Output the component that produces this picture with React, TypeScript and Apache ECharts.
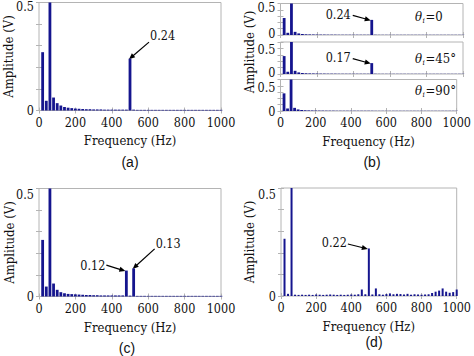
import React, { useEffect, useRef } from 'react';
import * as echarts from 'echarts';

// Frequency bins (Hz)
const FREQ = [20, 40, 60, 80, 100, 120, 140, 160, 180, 200, 220, 240, 260, 280, 300, 320, 340, 360, 380, 400, 420, 440, 460, 480, 500, 520, 540, 560, 580, 600, 620, 640, 660, 680, 700, 720, 740, 760, 780, 800, 820, 840, 860, 880, 900, 920, 940, 960, 980, 1000];

// (a)
const AMP_A = [0.27, 0.045, 0.5, 0.06, 0.034, 0.023, 0.016, 0.013, 0.011, 0.009, 0.008, 0.007, 0.006, 0.006, 0.005, 0.005, 0.005, 0.004, 0.004, 0.004, 0.004, 0.004, 0.004, 0.004, 0.24, 0.004, 0.003, 0.003, 0.003, 0.003, 0.003, 0.003, 0.003, 0.003, 0.003, 0.003, 0.003, 0.003, 0.003, 0.003, 0.003, 0.003, 0.003, 0.003, 0.003, 0.003, 0.003, 0.003, 0.003, 0.003];
// (b) theta = 0, 45, 90
const AMP_B1 = [0.27, 0.035, 0.5, 0.05, 0.025, 0.016, 0.011, 0.009, 0.008, 0.007, 0.006, 0.006, 0.005, 0.005, 0.005, 0.004, 0.004, 0.004, 0.004, 0.004, 0.004, 0.004, 0.004, 0.004, 0.24, 0.004, 0.003, 0.003, 0.003, 0.003, 0.003, 0.003, 0.003, 0.003, 0.003, 0.003, 0.003, 0.003, 0.003, 0.003, 0.003, 0.003, 0.003, 0.003, 0.003, 0.003, 0.003, 0.003, 0.003, 0.003];
const AMP_B2 = [0.28, 0.035, 0.5, 0.05, 0.025, 0.016, 0.011, 0.009, 0.008, 0.007, 0.006, 0.006, 0.005, 0.005, 0.005, 0.004, 0.004, 0.004, 0.004, 0.004, 0.004, 0.004, 0.004, 0.004, 0.17, 0.004, 0.003, 0.003, 0.003, 0.003, 0.003, 0.003, 0.003, 0.003, 0.003, 0.003, 0.003, 0.003, 0.003, 0.003, 0.003, 0.003, 0.003, 0.003, 0.003, 0.003, 0.003, 0.003, 0.003, 0.003];
const AMP_B3 = [0.28, 0.04, 0.5, 0.05, 0.025, 0.016, 0.011, 0.009, 0.008, 0.007, 0.006, 0.006, 0.005, 0.005, 0.005, 0.004, 0.004, 0.004, 0.004, 0.004, 0.004, 0.004, 0.004, 0.004, 0.004, 0.004, 0.003, 0.003, 0.003, 0.003, 0.003, 0.003, 0.003, 0.003, 0.003, 0.003, 0.003, 0.003, 0.003, 0.003, 0.003, 0.003, 0.003, 0.003, 0.003, 0.003, 0.003, 0.003, 0.003, 0.003];
// (c)
const AMP_C = [0.262, 0.046, 0.5, 0.06, 0.031, 0.02, 0.015, 0.012, 0.011, 0.01, 0.009, 0.008, 0.007, 0.007, 0.006, 0.006, 0.005, 0.005, 0.005, 0.005, 0.005, 0.005, 0.005, 0.12, 0.004, 0.13, 0.003, 0.003, 0.003, 0.003, 0.003, 0.003, 0.003, 0.003, 0.003, 0.003, 0.003, 0.003, 0.003, 0.003, 0.003, 0.003, 0.003, 0.003, 0.003, 0.003, 0.003, 0.003, 0.003, 0.003];
// (d)
const AMP_D = [0.265, 0.01, 0.5, 0.006, 0.005, 0.006, 0.005, 0.006, 0.005, 0.007, 0.006, 0.005, 0.006, 0.007, 0.006, 0.005, 0.006, 0.005, 0.006, 0.007, 0.006, 0.008, 0.03, 0.008, 0.22, 0.007, 0.035, 0.008, 0.006, 0.009, 0.012, 0.008, 0.01, 0.009, 0.007, 0.01, 0.006, 0.008, 0.007, 0.006, 0.007, 0.008, 0.014, 0.02, 0.025, 0.035, 0.02, 0.015, 0.018, 0.03];

const X_TICKS = [0, 200, 400, 600, 800, 1000];
const Y_MIN_LABEL = '0';
const Y_MAX_LABEL = '0.5';
const PANEL_LABELS = ['(a)', '(b)', '(c)', '(d)'];
const THETA_VALUES = ['0', '45°', '90°'];
const X_NAME = 'Frequency (Hz)';
const Y_NAME = 'Amplitude (V)';

const ANNOTATIONS = [
  { g: 0, f: 500, amps: AMP_A, label: '0.24' },
  { g: 1, f: 500, amps: AMP_B1, label: '0.24' },
  { g: 2, f: 500, amps: AMP_B2, label: '0.17' },
  { g: 4, f: 480, amps: AMP_C, label: '0.12' },
  { g: 4, f: 520, amps: AMP_C, label: '0.13' },
  { g: 5, f: 500, amps: AMP_D, label: '0.22' },
];

const SERIES_AMPS = [AMP_A, AMP_B1, AMP_B2, AMP_B3, AMP_C, AMP_D];

// ---- styling ----
const F_COND = 'DejaVu Serif Condensed';
const SANS = 'Liberation Sans';
const BAR = '#15158e';
const BOX = '#b4b4b4';
const TXT = '#111';
const TICK_FS = 12.5;
const NAME_FS = 13;

const GRIDS = [
  { left: 39, top: 2.5, width: 182, height: 108 },
  { left: 280.5, top: 3.5, width: 182.5, height: 31.5 },
  { left: 280.5, top: 42, width: 182.5, height: 32 },
  { left: 280.5, top: 79.5, width: 182.5, height: 31.5 },
  { left: 39, top: 188.5, width: 182, height: 108 },
  { left: 281, top: 188, width: 182, height: 108 },
];
const SHOW_X = [true, false, false, true, true, true];
const SHOW_YNAME = [true, false, false, false, true, true];
const BAR_W = [2.8, 2.8, 2.8, 2.8, 2.8, 2];
const MAX_LABEL_LH = [8, 8, 14, 16, 11, 13];
const ZERO_UP = [false, true, true, false, false, false];
const ANN_GEOM = [
  { tail: [20, -17], text: [21, -24], align: 'left' },
  { tail: [-18, -5], text: [-20, -6], align: 'right' },
  { tail: [-18, -5], text: [-20, -6], align: 'right' },
  { tail: [-19, -6], text: [-20, -6], align: 'right' },
  { tail: [22, -20], text: [23, -25], align: 'left' },
  { tail: [-20, -5], text: [-21, -6], align: 'right' },
];

function arrow(tip: number[], tail: number[]) {
  const dx = tip[0] - tail[0];
  const dy = tip[1] - tail[1];
  const len = Math.sqrt(dx * dx + dy * dy);
  const ux = dx / len;
  const uy = dy / len;
  const L = 6;
  const W = 2.6;
  const bx = tip[0] - ux * L;
  const by = tip[1] - uy * L;
  const px = -uy;
  const py = ux;
  return [
    {
      type: 'line',
      shape: { x1: tail[0], y1: tail[1], x2: bx + ux, y2: by + uy },
      style: { stroke: '#000', lineWidth: 1.2 },
      silent: true,
    },
    {
      type: 'polygon',
      shape: { points: [[tip[0], tip[1]], [bx + px * W, by + py * W], [bx - px * W, by - py * W]] },
      style: { fill: '#000' },
      silent: true,
    },
  ];
}

export default function App() {
  const ref = useRef<HTMLDivElement>(null);
  useEffect(() => {
    if (!ref.current) return;
    const chart = echarts.init(ref.current, undefined, { renderer: 'svg' });

    const grid = GRIDS.map((g) => ({ ...g, show: true, borderColor: BOX, borderWidth: 1, backgroundColor: 'transparent', containLabel: false }));

    const xMin = X_TICKS[0];
    const xMax = X_TICKS[X_TICKS.length - 1];
    const xInt = X_TICKS[1] - X_TICKS[0];
    const tick = { show: true, inside: true, length: 3, lineStyle: { color: BOX } };

    const xAxis: any[] = [];
    const yAxis: any[] = [];
    GRIDS.forEach((_, i) => {
      xAxis.push({
        type: 'value', gridIndex: i, min: xMin, max: xMax, interval: xInt,
        axisLine: { show: false }, axisTick: tick, splitLine: { show: false },
        axisLabel: { show: SHOW_X[i], margin: 5, fontFamily: F_COND, fontSize: TICK_FS, color: TXT, formatter: (v: number) => String(v) },
        name: SHOW_X[i] ? X_NAME : '',
        nameLocation: 'middle', nameGap: i === 0 ? 23.5 : i === 3 ? 24 : 24,
        nameTextStyle: { fontFamily: F_COND, fontSize: NAME_FS, color: TXT },
      });
      yAxis.push({
        type: 'value', gridIndex: i, min: 0, max: 0.5, interval: 0.1,
        axisLine: { show: false }, axisTick: tick, splitLine: { show: false },
        axisLabel: {
          margin: 5, fontFamily: F_COND, fontSize: TICK_FS, color: TXT,
          verticalAlign: ZERO_UP[i] ? 'bottom' : 'middle', lineHeight: ZERO_UP[i] ? 4 : undefined,
          formatter: (v: number) => (Math.abs(v) < 1e-9 ? Y_MIN_LABEL : ''),
        },
        name: SHOW_YNAME[i] ? Y_NAME : '',
        nameLocation: 'middle', nameGap: i === 0 ? 24 : i === 4 ? 23.5 : 25.5,
        nameTextStyle: { fontFamily: F_COND, fontSize: NAME_FS, color: TXT },
      });
    });
    GRIDS.forEach((_, i) => {
      xAxis.push({
        type: 'value', gridIndex: i, position: 'top', min: xMin, max: xMax, interval: xInt,
        axisLine: { show: false }, axisLabel: { show: false }, splitLine: { show: false }, axisTick: tick,
      });
      yAxis.push({
        type: 'value', gridIndex: i, position: 'right', min: 0, max: 0.5, interval: 0.1,
        axisLine: { show: false }, axisLabel: { show: false }, splitLine: { show: false }, axisTick: tick,
      });
    });
    GRIDS.forEach((_, i) => {
      yAxis.push({
        type: 'value', gridIndex: i, position: 'left', min: 0, max: 0.5, interval: 0.5,
        axisLine: { show: false }, axisTick: { show: false }, splitLine: { show: false },
        axisLabel: {
          margin: 5, fontFamily: F_COND, fontSize: TICK_FS, color: TXT, verticalAlign: 'top', lineHeight: MAX_LABEL_LH[i],
          formatter: (v: number) => (Math.abs(v - 0.5) < 1e-9 ? Y_MAX_LABEL : ''),
        },
      });
    });

    const series = SERIES_AMPS.map((amps, i) => ({
      type: 'bar', xAxisIndex: i, yAxisIndex: i,
      data: FREQ.map((f, k) => [f, amps[k]]),
      barWidth: BAR_W[i],
      itemStyle: { color: BAR },
      silent: true,
    }));

    chart.setOption({ animation: false, grid, xAxis, yAxis, series });

    const graphic: any[] = [];
    ANNOTATIONS.forEach((a, j) => {
      const v = a.amps[FREQ.indexOf(a.f)];
      const tip = chart.convertToPixel({ gridIndex: a.g }, [a.f, v]) as number[];
      const tipAdj = [tip[0] - 1, tip[1] + 0.5];
      const geo = ANN_GEOM[j];
      graphic.push(...arrow(tipAdj, [tipAdj[0] + geo.tail[0], tipAdj[1] + geo.tail[1]]));
      graphic.push({
        type: 'text', x: tipAdj[0] + geo.text[0], y: tipAdj[1] + geo.text[1], silent: true,
        style: { text: a.label, fontFamily: F_COND, fontSize: 12.5, fill: TXT, align: geo.align, verticalAlign: 'middle' },
      });
    });

    const thetaDy = [13, 16, 10.5];
    THETA_VALUES.forEach((t, k) => {
      const g = GRIDS[1 + k];
      const x0 = g.left + g.width - 48;
      const y0 = g.top + thetaDy[k];
      graphic.push({ type: 'text', x: x0, y: y0, silent: true, style: { text: 'θ', fontFamily: F_COND, fontStyle: 'italic', fontSize: 13, fill: TXT, align: 'left', verticalAlign: 'middle' } });
      graphic.push({ type: 'text', x: x0 + 7.5, y: y0 + 4, silent: true, style: { text: 'i', fontFamily: F_COND, fontStyle: 'italic', fontSize: 8, fill: TXT, align: 'left', verticalAlign: 'middle' } });
      graphic.push({ type: 'text', x: x0 + 10.5, y: y0, silent: true, style: { text: '=' + t, fontFamily: F_COND, fontSize: 13, fill: TXT, align: 'left', verticalAlign: 'middle' } });
    });

    graphic.push({
      type: 'text', x: 249.5, y: 52, rotation: Math.PI / 2, silent: true,
      style: { text: Y_NAME, fontFamily: F_COND, fontSize: NAME_FS, fill: TXT, align: 'center', verticalAlign: 'middle' },
    });

    const letterPos = [[130, 161.7], [372, 161.7], [127, 347.5], [374, 342]];
    PANEL_LABELS.forEach((l, k) => {
      graphic.push({
        type: 'text', x: letterPos[k][0], y: letterPos[k][1], silent: true,
        style: { text: l, fontFamily: SANS, fontSize: 14, fill: TXT, align: 'center', verticalAlign: 'middle' },
      });
    });

    chart.setOption({ graphic });

    return () => chart.dispose();
  }, []);
  return <div ref={ref} style={{ position: 'absolute', left: 0, top: 0, width: 474, height: 356, background: '#fff' }} />;
}
